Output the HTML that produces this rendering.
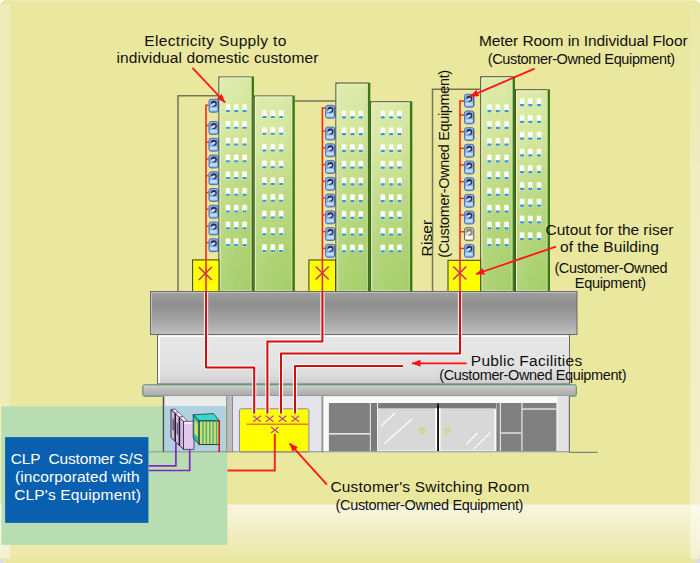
<!DOCTYPE html>
<html><head><meta charset="utf-8"><title>CLP Customer Substation</title>
<style>
html,body{margin:0;padding:0;background:#FFFFFF;}
body{width:700px;height:563px;overflow:hidden;}
svg{display:block;font-family:"Liberation Sans",sans-serif;}
</style></head><body>
<svg width="700" height="563" viewBox="0 0 700 563">

<defs>
 <linearGradient id="bldg" x1="0" y1="0" x2="0" y2="1">
  <stop offset="0" stop-color="#DCEBA8"/>
  <stop offset="0.25" stop-color="#D3E69B"/>
  <stop offset="0.5" stop-color="#BFDB86"/>
  <stop offset="0.75" stop-color="#B0D476"/>
  <stop offset="1" stop-color="#A8D06E"/>
 </linearGradient>
 <linearGradient id="bldgH" x1="0" y1="0" x2="1" y2="0">
  <stop offset="0" stop-color="#ffffff" stop-opacity="0.10"/>
  <stop offset="0.5" stop-color="#ffffff" stop-opacity="0"/>
  <stop offset="1" stop-color="#000000" stop-opacity="0.03"/>
 </linearGradient>
 <linearGradient id="slab" x1="0" y1="0" x2="0" y2="1">
  <stop offset="0" stop-color="#A0A0A0"/>
  <stop offset="0.3" stop-color="#8E8E8E"/>
  <stop offset="0.7" stop-color="#A6A6A6"/>
  <stop offset="1" stop-color="#C0C0C0"/>
 </linearGradient>
 <linearGradient id="facade" x1="0" y1="0" x2="0" y2="1">
  <stop offset="0" stop-color="#E6E6E6"/>
  <stop offset="0.6" stop-color="#E3E3E3"/>
  <stop offset="0.85" stop-color="#DADADA"/>
  <stop offset="1" stop-color="#CCCCCC"/>
 </linearGradient>
 <linearGradient id="ledge" x1="0" y1="0" x2="0" y2="1">
  <stop offset="0" stop-color="#D4D4D4"/>
  <stop offset="0.3" stop-color="#C2C2C2"/>
  <stop offset="1" stop-color="#A8A8A8"/>
 </linearGradient>
 <linearGradient id="rstrip" x1="0" y1="0" x2="0" y2="1">
  <stop offset="0" stop-color="#EBE8A6"/>
  <stop offset="0.3" stop-color="#F0EDBE"/>
  <stop offset="1" stop-color="#F3F0CA"/>
 </linearGradient>
 <linearGradient id="band2" x1="0" y1="0" x2="0" y2="1">
  <stop offset="0" stop-color="#FBFAEA"/>
  <stop offset="1" stop-color="#F3F1D0"/>
 </linearGradient>
 <linearGradient id="band" x1="0" y1="0" x2="0" y2="1">
  <stop offset="0" stop-color="#F8F6E0"/>
  <stop offset="0.45" stop-color="#F1EEC4"/>
  <stop offset="1" stop-color="#EAE79E"/>
 </linearGradient>
 <g id="win">
  <rect x="-0.6" y="-0.6" width="5.2" height="8.6" rx="1" fill="#F2F8C0" opacity="0.55"/>
  <rect x="0" y="0" width="4" height="5.6" fill="#FFFFFF"/>
  <rect x="0" y="5.4" width="4" height="2.1" rx="0.7" fill="#3596E6"/>
 </g>
 <g id="meter">
  <rect x="0.5" y="0.5" width="9.3" height="12.9" rx="2" fill="#86AEEE" stroke="#4566AE" stroke-width="0.9"/>
  <rect x="1.4" y="8.9" width="7.4" height="2.9" fill="#B8E2FC"/>
  <circle cx="5.3" cy="4.9" r="3.0" fill="#24304E"/>
  <ellipse cx="4.6" cy="5.7" rx="2.5" ry="1.4" transform="rotate(-25 4.6 5.7)" fill="#CAD6F0"/>
  <path d="M9.8,2 V12.5" stroke="#3A4250" stroke-width="0.7"/>
 </g>
 <g id="meterg">
  <rect x="0.5" y="0.5" width="9.3" height="12.9" rx="2" fill="#C8C8C0" stroke="#6A6A60" stroke-width="1"/>
  <rect x="1.4" y="8.2" width="7.4" height="3.6" fill="#FFFFFF"/>
  <circle cx="5.3" cy="4.9" r="3.4" fill="#8A8A70"/>
  <ellipse cx="4.4" cy="5.9" rx="2.7" ry="1.5" transform="rotate(-25 4.4 5.9)" fill="#E8E8E0"/>
 </g>
 <marker id="ah" viewBox="0 0 9 7" refX="8.5" refY="3.5" markerWidth="9" markerHeight="7" markerUnits="userSpaceOnUse" orient="auto">
  <path d="M0,0 L9,3.5 L0,7 Z" fill="#FF1414"/>
 </marker>
</defs>

<rect x="0" y="0" width="700" height="563" fill="#FFFFFF"/>
<rect x="0" y="0" width="700" height="563" rx="6" fill="#EAE79E"/>
<rect x="0" y="4" width="10" height="553" fill="#EFECB8"/>
<rect x="690" y="3" width="10" height="556" fill="url(#rstrip)"/>
<rect x="690" y="504.6" width="10" height="54" fill="url(#band2)"/>
<path d="M700,555 Q699,562 692,563 L700,563 Z" fill="#DCDCE8"/>
<rect x="0" y="504.6" width="10" height="54" fill="url(#band2)"/>
<path d="M0,557 Q1,562 5,563 L0,563 Z" fill="#DCDCE8"/>
<rect x="4" y="0" width="692" height="1.2" fill="#EEEBB8"/>
<rect x="10" y="504.6" width="680" height="58.4" fill="url(#band)"/>
<path d="M178,292 V95.7 H219" fill="none" stroke="#74745A" stroke-width="1.5"/>
<path d="M294,101.1 H336" fill="none" stroke="#74745A" stroke-width="1.5"/>
<path d="M432.5,292 V89.3 H480.5" fill="none" stroke="#74745A" stroke-width="1.5"/>
<rect x="218.5" y="76.5" width="35.5" height="215.5" fill="url(#bldg)"/>
<rect x="218.5" y="76.5" width="35.5" height="215.5" fill="url(#bldgH)"/>
<path d="M219.0,292 V77.0 H251.5" fill="none" stroke="#4A4C30" stroke-width="1.2"/>
<path d="M220.0,291 V78.0 H251" fill="none" stroke="#F2F8D6" stroke-width="1" opacity="0.9"/>
<rect x="251.5" y="76.5" width="2.5" height="215.5" fill="#3A7A12"/>
<rect x="250.5" y="77.5" width="1" height="214.5" fill="#E2EEB6" opacity="0.6"/>
<rect x="219.5" y="290" width="32.0" height="1.2" fill="#C8E690" opacity="0.8"/>
<rect x="253.8" y="95.5" width="41.0" height="196.5" fill="url(#bldg)"/>
<rect x="253.8" y="95.5" width="41.0" height="196.5" fill="url(#bldgH)"/>
<path d="M254.3,292 V96.0 H292.3" fill="none" stroke="#4A4C30" stroke-width="1.2"/>
<path d="M255.3,291 V97.0 H291.8" fill="none" stroke="#F2F8D6" stroke-width="1" opacity="0.9"/>
<rect x="292.3" y="95.5" width="2.5" height="196.5" fill="#3A7A12"/>
<rect x="291.3" y="96.5" width="1" height="195.5" fill="#E2EEB6" opacity="0.6"/>
<rect x="254.8" y="290" width="37.5" height="1.2" fill="#C8E690" opacity="0.8"/>
<use href="#win" x="225.9" y="104.60"/>
<use href="#win" x="234.2" y="104.60"/>
<use href="#win" x="242.6" y="104.60"/>
<use href="#win" x="225.9" y="121.35"/>
<use href="#win" x="234.2" y="121.35"/>
<use href="#win" x="242.6" y="121.35"/>
<use href="#win" x="225.9" y="138.10"/>
<use href="#win" x="234.2" y="138.10"/>
<use href="#win" x="242.6" y="138.10"/>
<use href="#win" x="225.9" y="154.85"/>
<use href="#win" x="234.2" y="154.85"/>
<use href="#win" x="242.6" y="154.85"/>
<use href="#win" x="225.9" y="171.60"/>
<use href="#win" x="234.2" y="171.60"/>
<use href="#win" x="242.6" y="171.60"/>
<use href="#win" x="225.9" y="188.35"/>
<use href="#win" x="234.2" y="188.35"/>
<use href="#win" x="242.6" y="188.35"/>
<use href="#win" x="225.9" y="205.10"/>
<use href="#win" x="234.2" y="205.10"/>
<use href="#win" x="242.6" y="205.10"/>
<use href="#win" x="225.9" y="221.85"/>
<use href="#win" x="234.2" y="221.85"/>
<use href="#win" x="242.6" y="221.85"/>
<use href="#win" x="225.9" y="238.60"/>
<use href="#win" x="234.2" y="238.60"/>
<use href="#win" x="242.6" y="238.60"/>
<use href="#win" x="262.4" y="110.60"/>
<use href="#win" x="270.8" y="110.60"/>
<use href="#win" x="279.2" y="110.60"/>
<use href="#win" x="262.4" y="127.35"/>
<use href="#win" x="270.8" y="127.35"/>
<use href="#win" x="279.2" y="127.35"/>
<use href="#win" x="262.4" y="144.10"/>
<use href="#win" x="270.8" y="144.10"/>
<use href="#win" x="279.2" y="144.10"/>
<use href="#win" x="262.4" y="160.85"/>
<use href="#win" x="270.8" y="160.85"/>
<use href="#win" x="279.2" y="160.85"/>
<use href="#win" x="262.4" y="177.60"/>
<use href="#win" x="270.8" y="177.60"/>
<use href="#win" x="279.2" y="177.60"/>
<use href="#win" x="262.4" y="194.35"/>
<use href="#win" x="270.8" y="194.35"/>
<use href="#win" x="279.2" y="194.35"/>
<use href="#win" x="262.4" y="211.10"/>
<use href="#win" x="270.8" y="211.10"/>
<use href="#win" x="279.2" y="211.10"/>
<use href="#win" x="262.4" y="227.85"/>
<use href="#win" x="270.8" y="227.85"/>
<use href="#win" x="279.2" y="227.85"/>
<use href="#win" x="262.4" y="244.60"/>
<use href="#win" x="270.8" y="244.60"/>
<use href="#win" x="279.2" y="244.60"/>
<rect x="335.5" y="82.7" width="34.80000000000001" height="209.3" fill="url(#bldg)"/>
<rect x="335.5" y="82.7" width="34.80000000000001" height="209.3" fill="url(#bldgH)"/>
<path d="M336.0,292 V83.2 H367.8" fill="none" stroke="#4A4C30" stroke-width="1.2"/>
<path d="M337.0,291 V84.2 H367.3" fill="none" stroke="#F2F8D6" stroke-width="1" opacity="0.9"/>
<rect x="367.8" y="82.7" width="2.5" height="209.3" fill="#3A7A12"/>
<rect x="366.8" y="83.7" width="1" height="208.3" fill="#E2EEB6" opacity="0.6"/>
<rect x="336.5" y="290" width="31.30000000000001" height="1.2" fill="#C8E690" opacity="0.8"/>
<rect x="370.2" y="101.3" width="42.10000000000002" height="190.7" fill="url(#bldg)"/>
<rect x="370.2" y="101.3" width="42.10000000000002" height="190.7" fill="url(#bldgH)"/>
<path d="M370.7,292 V101.8 H409.8" fill="none" stroke="#4A4C30" stroke-width="1.2"/>
<path d="M371.7,291 V102.8 H409.3" fill="none" stroke="#F2F8D6" stroke-width="1" opacity="0.9"/>
<rect x="409.8" y="101.3" width="2.5" height="190.7" fill="#3A7A12"/>
<rect x="408.8" y="102.3" width="1" height="189.7" fill="#E2EEB6" opacity="0.6"/>
<rect x="371.2" y="290" width="38.60000000000002" height="1.2" fill="#C8E690" opacity="0.8"/>
<use href="#win" x="342.0" y="110.90"/>
<use href="#win" x="350.5" y="110.90"/>
<use href="#win" x="358.8" y="110.90"/>
<use href="#win" x="342.0" y="127.65"/>
<use href="#win" x="350.5" y="127.65"/>
<use href="#win" x="358.8" y="127.65"/>
<use href="#win" x="342.0" y="144.40"/>
<use href="#win" x="350.5" y="144.40"/>
<use href="#win" x="358.8" y="144.40"/>
<use href="#win" x="342.0" y="161.15"/>
<use href="#win" x="350.5" y="161.15"/>
<use href="#win" x="358.8" y="161.15"/>
<use href="#win" x="342.0" y="177.90"/>
<use href="#win" x="350.5" y="177.90"/>
<use href="#win" x="358.8" y="177.90"/>
<use href="#win" x="342.0" y="194.65"/>
<use href="#win" x="350.5" y="194.65"/>
<use href="#win" x="358.8" y="194.65"/>
<use href="#win" x="342.0" y="211.40"/>
<use href="#win" x="350.5" y="211.40"/>
<use href="#win" x="358.8" y="211.40"/>
<use href="#win" x="342.0" y="228.15"/>
<use href="#win" x="350.5" y="228.15"/>
<use href="#win" x="358.8" y="228.15"/>
<use href="#win" x="342.0" y="244.90"/>
<use href="#win" x="350.5" y="244.90"/>
<use href="#win" x="358.8" y="244.90"/>
<use href="#win" x="380.8" y="110.90"/>
<use href="#win" x="389.2" y="110.90"/>
<use href="#win" x="397.5" y="110.90"/>
<use href="#win" x="380.8" y="127.65"/>
<use href="#win" x="389.2" y="127.65"/>
<use href="#win" x="397.5" y="127.65"/>
<use href="#win" x="380.8" y="144.40"/>
<use href="#win" x="389.2" y="144.40"/>
<use href="#win" x="397.5" y="144.40"/>
<use href="#win" x="380.8" y="161.15"/>
<use href="#win" x="389.2" y="161.15"/>
<use href="#win" x="397.5" y="161.15"/>
<use href="#win" x="380.8" y="177.90"/>
<use href="#win" x="389.2" y="177.90"/>
<use href="#win" x="397.5" y="177.90"/>
<use href="#win" x="380.8" y="194.65"/>
<use href="#win" x="389.2" y="194.65"/>
<use href="#win" x="397.5" y="194.65"/>
<use href="#win" x="380.8" y="211.40"/>
<use href="#win" x="389.2" y="211.40"/>
<use href="#win" x="397.5" y="211.40"/>
<use href="#win" x="380.8" y="228.15"/>
<use href="#win" x="389.2" y="228.15"/>
<use href="#win" x="397.5" y="228.15"/>
<use href="#win" x="380.8" y="244.90"/>
<use href="#win" x="389.2" y="244.90"/>
<use href="#win" x="397.5" y="244.90"/>
<rect x="480.3" y="76.4" width="34.69999999999999" height="215.6" fill="url(#bldg)"/>
<rect x="480.3" y="76.4" width="34.69999999999999" height="215.6" fill="url(#bldgH)"/>
<path d="M480.8,292 V76.9 H512.5" fill="none" stroke="#4A4C30" stroke-width="1.2"/>
<path d="M481.8,291 V77.9 H512" fill="none" stroke="#F2F8D6" stroke-width="1" opacity="0.9"/>
<rect x="512.5" y="76.4" width="2.5" height="215.6" fill="#3A7A12"/>
<rect x="511.5" y="77.4" width="1" height="214.6" fill="#E2EEB6" opacity="0.6"/>
<rect x="481.3" y="290" width="31.19999999999999" height="1.2" fill="#C8E690" opacity="0.8"/>
<rect x="515" y="89.3" width="35" height="202.7" fill="url(#bldg)"/>
<rect x="515" y="89.3" width="35" height="202.7" fill="url(#bldgH)"/>
<path d="M515.5,292 V89.8 H547.5" fill="none" stroke="#4A4C30" stroke-width="1.2"/>
<path d="M516.5,291 V90.8 H547" fill="none" stroke="#F2F8D6" stroke-width="1" opacity="0.9"/>
<rect x="547.5" y="89.3" width="2.5" height="202.7" fill="#3A7A12"/>
<rect x="546.5" y="90.3" width="1" height="201.7" fill="#E2EEB6" opacity="0.6"/>
<rect x="516" y="290" width="31.5" height="1.2" fill="#C8E690" opacity="0.8"/>
<use href="#win" x="487.4" y="104.70"/>
<use href="#win" x="495.8" y="104.70"/>
<use href="#win" x="504.5" y="104.70"/>
<use href="#win" x="487.4" y="121.45"/>
<use href="#win" x="495.8" y="121.45"/>
<use href="#win" x="504.5" y="121.45"/>
<use href="#win" x="487.4" y="138.20"/>
<use href="#win" x="495.8" y="138.20"/>
<use href="#win" x="504.5" y="138.20"/>
<use href="#win" x="487.4" y="154.95"/>
<use href="#win" x="495.8" y="154.95"/>
<use href="#win" x="504.5" y="154.95"/>
<use href="#win" x="487.4" y="171.70"/>
<use href="#win" x="495.8" y="171.70"/>
<use href="#win" x="504.5" y="171.70"/>
<use href="#win" x="487.4" y="188.45"/>
<use href="#win" x="495.8" y="188.45"/>
<use href="#win" x="504.5" y="188.45"/>
<use href="#win" x="487.4" y="205.20"/>
<use href="#win" x="495.8" y="205.20"/>
<use href="#win" x="504.5" y="205.20"/>
<use href="#win" x="487.4" y="221.95"/>
<use href="#win" x="495.8" y="221.95"/>
<use href="#win" x="504.5" y="221.95"/>
<use href="#win" x="487.4" y="238.70"/>
<use href="#win" x="495.8" y="238.70"/>
<use href="#win" x="504.5" y="238.70"/>
<use href="#win" x="520.1" y="98.70"/>
<use href="#win" x="528.3" y="98.70"/>
<use href="#win" x="537.0" y="98.70"/>
<use href="#win" x="520.1" y="115.45"/>
<use href="#win" x="528.3" y="115.45"/>
<use href="#win" x="537.0" y="115.45"/>
<use href="#win" x="520.1" y="132.20"/>
<use href="#win" x="528.3" y="132.20"/>
<use href="#win" x="537.0" y="132.20"/>
<use href="#win" x="520.1" y="148.95"/>
<use href="#win" x="528.3" y="148.95"/>
<use href="#win" x="537.0" y="148.95"/>
<use href="#win" x="520.1" y="165.70"/>
<use href="#win" x="528.3" y="165.70"/>
<use href="#win" x="537.0" y="165.70"/>
<use href="#win" x="520.1" y="182.45"/>
<use href="#win" x="528.3" y="182.45"/>
<use href="#win" x="537.0" y="182.45"/>
<use href="#win" x="520.1" y="199.20"/>
<use href="#win" x="528.3" y="199.20"/>
<use href="#win" x="537.0" y="199.20"/>
<use href="#win" x="520.1" y="215.95"/>
<use href="#win" x="528.3" y="215.95"/>
<use href="#win" x="537.0" y="215.95"/>
<use href="#win" x="520.1" y="232.70"/>
<use href="#win" x="528.3" y="232.70"/>
<use href="#win" x="537.0" y="232.70"/>
<rect x="192.6" y="259.9" width="26.400000000000006" height="31.600000000000023" fill="#FFFF00" stroke="#3C3C22" stroke-width="1"/>
<rect x="308.9" y="260.0" width="26.700000000000045" height="31.5" fill="#FFFF00" stroke="#3C3C22" stroke-width="1"/>
<rect x="448.0" y="260.3" width="32.69999999999999" height="31.19999999999999" fill="#FFFF00" stroke="#3C3C22" stroke-width="1"/>
<path d="M208.5,105.3 H206 V292" fill="none" stroke="#F02A1A" stroke-width="1.6"/>
<use href="#meter" x="208.5" y="98.80"/>
<path d="M206,125.50 H208.5" stroke="#F02A1A" stroke-width="1.4"/>
<use href="#meter" x="208.5" y="121.00"/>
<path d="M206,142.25 H208.5" stroke="#F02A1A" stroke-width="1.4"/>
<use href="#meter" x="208.5" y="137.75"/>
<path d="M206,159.00 H208.5" stroke="#F02A1A" stroke-width="1.4"/>
<use href="#meter" x="208.5" y="154.50"/>
<path d="M206,175.75 H208.5" stroke="#F02A1A" stroke-width="1.4"/>
<use href="#meter" x="208.5" y="171.25"/>
<path d="M206,192.50 H208.5" stroke="#F02A1A" stroke-width="1.4"/>
<use href="#meter" x="208.5" y="188.00"/>
<path d="M206,209.25 H208.5" stroke="#F02A1A" stroke-width="1.4"/>
<use href="#meter" x="208.5" y="204.75"/>
<path d="M206,226.00 H208.5" stroke="#F02A1A" stroke-width="1.4"/>
<use href="#meter" x="208.5" y="221.50"/>
<path d="M206,242.75 H208.5" stroke="#F02A1A" stroke-width="1.4"/>
<use href="#meter" x="208.5" y="238.25"/>
<path d="M325.1,108 H322.4 V292" fill="none" stroke="#F02A1A" stroke-width="1.6"/>
<use href="#meter" x="325.1" y="104.80"/>
<path d="M322.4,131.10 H325.1" stroke="#F02A1A" stroke-width="1.4"/>
<use href="#meter" x="325.1" y="126.60"/>
<path d="M322.4,147.85 H325.1" stroke="#F02A1A" stroke-width="1.4"/>
<use href="#meter" x="325.1" y="143.35"/>
<path d="M322.4,164.60 H325.1" stroke="#F02A1A" stroke-width="1.4"/>
<use href="#meter" x="325.1" y="160.10"/>
<path d="M322.4,181.35 H325.1" stroke="#F02A1A" stroke-width="1.4"/>
<use href="#meter" x="325.1" y="176.85"/>
<path d="M322.4,198.10 H325.1" stroke="#F02A1A" stroke-width="1.4"/>
<use href="#meter" x="325.1" y="193.60"/>
<path d="M322.4,214.85 H325.1" stroke="#F02A1A" stroke-width="1.4"/>
<use href="#meter" x="325.1" y="210.35"/>
<path d="M322.4,231.60 H325.1" stroke="#F02A1A" stroke-width="1.4"/>
<use href="#meter" x="325.1" y="227.10"/>
<path d="M322.4,248.35 H325.1" stroke="#F02A1A" stroke-width="1.4"/>
<use href="#meter" x="325.1" y="243.85"/>
<path d="M464,101 H460 V292" fill="none" stroke="#F02A1A" stroke-width="1.6"/>
<use href="#meter" x="464" y="93.80"/>
<path d="M460,114.98 H464" stroke="#F02A1A" stroke-width="1.4"/>
<use href="#meter" x="464" y="110.48"/>
<path d="M460,131.66 H464" stroke="#F02A1A" stroke-width="1.4"/>
<use href="#meter" x="464" y="127.16"/>
<path d="M460,148.34 H464" stroke="#F02A1A" stroke-width="1.4"/>
<use href="#meter" x="464" y="143.84"/>
<path d="M460,165.02 H464" stroke="#F02A1A" stroke-width="1.4"/>
<use href="#meter" x="464" y="160.52"/>
<path d="M460,181.70 H464" stroke="#F02A1A" stroke-width="1.4"/>
<use href="#meter" x="464" y="177.20"/>
<path d="M460,198.38 H464" stroke="#F02A1A" stroke-width="1.4"/>
<use href="#meter" x="464" y="193.88"/>
<path d="M460,215.06 H464" stroke="#F02A1A" stroke-width="1.4"/>
<use href="#meter" x="464" y="210.56"/>
<path d="M460,231.74 H464" stroke="#F02A1A" stroke-width="1.4"/>
<use href="#meterg" x="464" y="227.24"/>
<path d="M460,248.42 H464" stroke="#F02A1A" stroke-width="1.4"/>
<use href="#meter" x="464" y="243.92"/>
<path d="M198.8,267.0 L211.8,280.0 M211.8,267.0 L198.8,280.0" stroke="#D0306A" stroke-width="1.6" fill="none"/>
<path d="M315.7,266.5 L328.7,279.5 M328.7,266.5 L315.7,279.5" stroke="#D0306A" stroke-width="1.6" fill="none"/>
<path d="M453.3,266.5 L466.3,279.5 M466.3,266.5 L453.3,279.5" stroke="#D0306A" stroke-width="1.6" fill="none"/>
<rect x="150.5" y="291.5" width="426.5" height="43" fill="url(#slab)" stroke="#6A6A6A" stroke-width="1"/>
<path d="M151.5,333 V292.5 H576" stroke="#C8C8C8" stroke-width="1" fill="none" opacity="0.8"/>
<rect x="157.5" y="334.5" width="412" height="49.5" fill="url(#facade)" stroke="#6A6A6A" stroke-width="1"/>
<path d="M159.2,383 V336.2 H568.5" stroke="#FFFFFF" stroke-width="1.6" fill="none"/>
<rect x="142.8" y="384.8" width="433.5" height="11.4" rx="1.8" fill="url(#ledge)" stroke="#4E8A66" stroke-width="1"/>
<rect x="162.5" y="396.2" width="407.5" height="56" fill="#F4F4F4"/>
<rect x="1.4" y="406.4" width="226" height="138.5" fill="#B8DDB2"/>
<rect x="163.5" y="396.5" width="63" height="10" fill="#ECECEC"/>
<rect x="162.7" y="396.4" width="1.6" height="55.8" fill="#505050"/>
<rect x="148.6" y="451.3" width="15" height="1" fill="#909890"/>
<rect x="164.4" y="406" width="60.6" height="45.8" fill="#B0D2E0"/>
<rect x="226.2" y="396.2" width="6.800000000000011" height="56.0" fill="#BDBDBD"/>
<rect x="226.2" y="396.2" width="1" height="56.0" fill="#8C8C8C"/>
<rect x="232" y="396.2" width="1" height="56.0" fill="#8C8C8C"/>
<rect x="233" y="396.5" width="89" height="55.7" fill="#E4E4EA"/>
<rect x="239.4" y="408.8" width="69.5" height="43.2" rx="2" fill="#FFFF00" stroke="#8888A8" stroke-width="1"/>
<rect x="321.6" y="396.2" width="1.8999999999999773" height="56.0" fill="#BDBDBD"/>
<rect x="321.6" y="396.2" width="1" height="56.0" fill="#8C8C8C"/>
<rect x="322.5" y="396.2" width="1" height="56.0" fill="#8C8C8C"/>
<rect x="323.5" y="396.5" width="246.5" height="55.7" fill="#FAFAFA"/>
<rect x="328.9" y="403" width="41.8" height="48.3" fill="#808080"/>
<rect x="329" y="433" width="41.7" height="1.6" fill="#E8E8E8"/>
<rect x="369.8" y="403" width="1.2" height="48.3" fill="#D8D8D8"/>
<rect x="371" y="403" width="6" height="48.3" fill="#7A7A7A"/>
<rect x="377" y="403" width="119" height="5.6" fill="#7A7A7A"/>
<rect x="378.1" y="408.6" width="57.599999999999966" height="41.8" fill="#D8D8D8"/>
<rect x="438.6" y="408.6" width="55.69999999999999" height="41.8" fill="#D8D8D8"/>
<rect x="435.3" y="408.3" width="5.2" height="42.7" fill="#FFFFFF"/>
<rect x="437.1" y="403.5" width="1.9" height="47.5" fill="#151515"/>
<rect x="377" y="403" width="1.1" height="48.3" fill="#F0F0F0"/>
<path d="M381,426 L395,413 M384,444 L412,419 M466.4,444.4 L477.4,433 M473.7,449.2 L490.7,432.2" stroke="#FFFFFF" stroke-width="1.2"/>
<circle cx="422.2" cy="430.2" r="2.6" fill="#CCCCEE" stroke="#D6DE50" stroke-width="1.1"/>
<circle cx="447.3" cy="430.4" r="2.6" fill="#CCCCEE" stroke="#D6DE50" stroke-width="1.1"/>
<rect x="496.4" y="403" width="60" height="48.3" fill="#808080"/>
<rect x="499.8" y="403" width="1.2" height="48.3" fill="#E0E0E0"/>
<rect x="521.3" y="403" width="1.3" height="48.3" fill="#E0E0E0"/>
<rect x="500.5" y="432.3" width="21" height="1.5" fill="#E0E0E0"/>
<rect x="522" y="408.3" width="34.4" height="1.5" fill="#E0E0E0"/>
<rect x="557.5" y="396.5" width="11.4" height="55.7" fill="#E2E2E2"/>
<rect x="568.8" y="396.2" width="1.2" height="56" fill="#707070"/>
<rect x="162.5" y="451.3" width="407.5" height="1" fill="#8A8A8A"/>
<rect x="569" y="451.8" width="28.6" height="1.2" fill="#848474"/>
<path d="M171,409.5 L175,409 L187.5,421.3 L183.6,421.3 Z" fill="#F2E6F6" stroke="#3A2A40" stroke-width="0.7"/>
<path d="M171,409.5 L183.6,421.3 L183.6,449.3 L171,437.5 Z" fill="#D4BCE0" stroke="#2A1A30" stroke-width="0.9"/>
<path d="M175.2,413.5 L175.2,441.5 M179.4,417.4 L179.4,445.4" stroke="#2A1A30" stroke-width="1.6"/>
<path d="M172.5,418 L174,419.5 L174,431 L172.5,429.5 Z" fill="#6A5A70"/>
<path d="M176.7,422 L178,423.3 L178,435 L176.7,433.7 Z" fill="#6A5A70"/>
<path d="M175,413 L179,412.6 L183,416.6 L179.2,417 Z" fill="#F6EEF8" stroke="#3A2A40" stroke-width="0.5"/>
<path d="M179.2,417 L183.4,416.8 L187.5,421.3 L183.6,421.3 Z" fill="#F6EEF8" stroke="#3A2A40" stroke-width="0.5"/>
<rect x="183.6" y="421.3" width="10.4" height="28" fill="#E2C8EE" stroke="#3A2A40" stroke-width="0.8"/>
<rect x="184.2" y="421.8" width="9.2" height="2.2" fill="#F4EAF8"/>
<path d="M193.2,414.8 L213.5,413.6 L219.4,421 L199.2,421 Z" fill="#38D8D0" stroke="#1A3A3A" stroke-width="0.8"/>
<path d="M193.2,414.8 L199.2,421 L199.2,444.6 L193.2,438 Z" fill="#30B8B0" stroke="#1A3A3A" stroke-width="0.8"/>
<path d="M194.5,420 L197.8,423.5 L197.8,437 L194.5,433.5 Z" fill="#D8E060"/>
<rect x="199.2" y="421" width="20.2" height="23.6" fill="#D6E066" stroke="#1A2A1A" stroke-width="0.9"/>
<rect x="202.2" y="421.5" width="1.5" height="22.6" fill="#4AAE8A"/>
<rect x="205.6" y="421.5" width="1.5" height="22.6" fill="#4AAE8A"/>
<rect x="209.0" y="421.5" width="1.5" height="22.6" fill="#4AAE8A"/>
<rect x="212.4" y="421.5" width="1.5" height="22.6" fill="#4AAE8A"/>
<rect x="215.8" y="421.5" width="1.5" height="22.6" fill="#4AAE8A"/>
<path d="M175.9,442 V465.8 H148.6" stroke="#8028C0" stroke-width="1.7" fill="none"/>
<path d="M189.7,449.5 V470.5 H148.6" stroke="#8028C0" stroke-width="1.7" fill="none"/>
<path d="M219.2,421 V452" stroke="#E01010" stroke-width="1.5"/>
<rect x="5.1" y="437.1" width="143.3" height="85.8" fill="#0A60B0"/>
<path d="M206,292 V367.4 H254.2 V413.5" stroke="#F4FCFF" stroke-width="4.2" fill="none" stroke-linejoin="round" opacity="0.9"/>
<path d="M322.4,292 V341.6 H267.4 V413.5" stroke="#F4FCFF" stroke-width="4.2" fill="none" stroke-linejoin="round" opacity="0.9"/>
<path d="M460,292 V353.6 H281 V413.5" stroke="#F4FCFF" stroke-width="4.2" fill="none" stroke-linejoin="round" opacity="0.9"/>
<path d="M403,366 H295 V413.5" stroke="#F4FCFF" stroke-width="4.2" fill="none" stroke-linejoin="round" opacity="0.9"/>
<path d="M206,292 V367.4 H254.2 V413.5" stroke="#D80A0A" stroke-width="2" fill="none" stroke-linejoin="round"/>
<path d="M322.4,292 V341.6 H267.4 V413.5" stroke="#D80A0A" stroke-width="2" fill="none" stroke-linejoin="round"/>
<path d="M460,292 V353.6 H281 V413.5" stroke="#D80A0A" stroke-width="2" fill="none" stroke-linejoin="round"/>
<path d="M403,366 H295 V413.5" stroke="#D80A0A" stroke-width="2" fill="none" stroke-linejoin="round"/>
<path d="M253.2,415.8 L260.8,421.8 M260.8,415.8 L253.2,421.8" stroke="#B84898" stroke-width="1.2" fill="none"/>
<path d="M265.9,415.8 L273.5,421.8 M273.5,415.8 L265.9,421.8" stroke="#B84898" stroke-width="1.2" fill="none"/>
<path d="M278.7,415.8 L286.3,421.8 M286.3,415.8 L278.7,421.8" stroke="#B84898" stroke-width="1.2" fill="none"/>
<path d="M291.5,415.8 L299.1,421.8 M299.1,415.8 L291.5,421.8" stroke="#B84898" stroke-width="1.2" fill="none"/>
<path d="M246.6,424.3 H308.4" stroke="#F07820" stroke-width="1.5"/>
<path d="M271.0,427.0 L278.6,433.0 M278.6,427.0 L271.0,433.0" stroke="#B84898" stroke-width="1.2" fill="none"/>
<path d="M274.8,434 V470.4 H227.5" stroke="#F02A1A" stroke-width="2" fill="none"/>
<path d="M192.5,67.8 L225,102.5" stroke="#FF1414" stroke-width="1.8" marker-end="url(#ah)"/>
<path d="M534.7,68.6 L470.1,96.3" stroke="#FF1414" stroke-width="1.8" marker-end="url(#ah)"/>
<path d="M556,246.6 L476,274" stroke="#FF1414" stroke-width="1.8" marker-end="url(#ah)"/>
<path d="M466.8,363.3 L412,363.3" stroke="#FF1414" stroke-width="1.8" marker-end="url(#ah)"/>
<path d="M326.9,484.6 L289.6,443.3" stroke="#FF1414" stroke-width="1.8" marker-end="url(#ah)"/>
<text x="144.20" y="45.6" font-size="15.5" fill="#111111" textLength="142.20" lengthAdjust="spacing">Electricity Supply to</text>
<text x="116.40" y="63.0" font-size="15.5" fill="#111111" textLength="202.00" lengthAdjust="spacing">individual domestic customer</text>
<text x="479.00" y="45.6" font-size="15.5" fill="#111111" textLength="208.60" lengthAdjust="spacing">Meter Room in Individual Floor</text>
<text x="487.80" y="63.6" font-size="14.5" fill="#111111" textLength="187.40" lengthAdjust="spacing">(Customer-Owned Equipment)</text>
<text x="545.60" y="234.5" font-size="15.5" fill="#111111" textLength="127.80" lengthAdjust="spacing">Cutout for the riser</text>
<text x="560.00" y="251.8" font-size="15.5" fill="#111111" textLength="98.80" lengthAdjust="spacing">of the Building</text>
<text x="554.40" y="272.7" font-size="14.5" fill="#111111" textLength="113.20" lengthAdjust="spacing">(Customer-Owned</text>
<text x="574.80" y="287.6" font-size="14.5" fill="#111111" textLength="71.40" lengthAdjust="spacing">Equipment)</text>
<text x="470.80" y="365.6" font-size="15.5" fill="#111111" textLength="111.40" lengthAdjust="spacing">Public Facilities</text>
<text x="439.20" y="379.7" font-size="14.5" fill="#111111" textLength="187.40" lengthAdjust="spacing">(Customer-Owned Equipment)</text>
<text x="330.40" y="491.6" font-size="15.5" fill="#111111" textLength="199.00" lengthAdjust="spacing">Customer's Switching Room</text>
<text x="335.60" y="509.6" font-size="14.5" fill="#111111" textLength="187.80" lengthAdjust="spacing">(Customer-Owned Equipment)</text>
<text x="10.80" y="463.5" font-size="15.5" fill="#FFFFFF" textLength="132.20" lengthAdjust="spacing">CLP&#160; Customer S/S</text>
<text x="15.00" y="482.0" font-size="15.5" fill="#FFFFFF" textLength="124.60" lengthAdjust="spacing">(incorporated with</text>
<text x="14.20" y="500.4" font-size="15.5" fill="#FFFFFF" textLength="126.60" lengthAdjust="spacing">CLP's Equipment)</text>
<text transform="translate(431.8,256.40) rotate(-90)" x="0" y="0" font-size="15.5" fill="#111111" textLength="36.60" lengthAdjust="spacing">Riser</text>
<text transform="translate(449.4,257.80) rotate(-90)" x="0" y="0" font-size="14.5" fill="#111111" textLength="188.00" lengthAdjust="spacing">(Customer-Owned Equipment)</text>
</svg>
</body></html>
